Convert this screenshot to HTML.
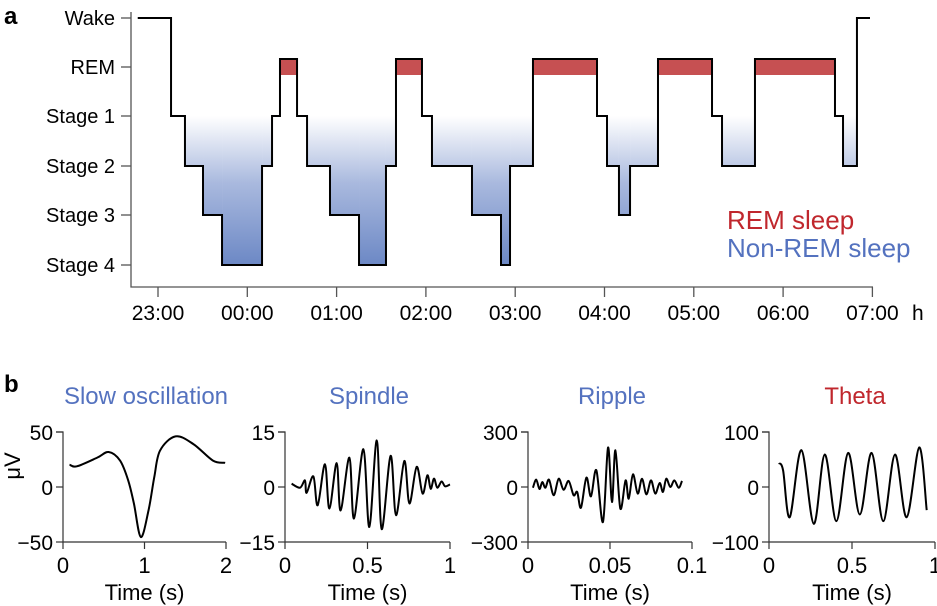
<!DOCTYPE html>
<html><head><meta charset="utf-8"><style>
body{margin:0;background:#fff}
svg{display:block;font-family:"Liberation Sans",Arial,sans-serif}
</style></head><body>
<svg id="chart" width="937" height="606" viewBox="0 0 937 606">
<defs>
<linearGradient id="nrem" x1="0" y1="116" x2="0" y2="265" gradientUnits="userSpaceOnUse">
<stop offset="0" stop-color="#ffffff"/><stop offset="0.45" stop-color="#a9b9de"/><stop offset="1" stop-color="#6c88c5"/>
</linearGradient>
</defs>
<text x="4" y="24" font-size="24" font-weight="bold">a</text>
<text x="4" y="392" font-size="24" font-weight="bold">b</text>
<g id="hyp"></g>
<g id="waves"></g>
</svg>
<script>
// ---- Panel a data ----
const stageNames = ["Wake","REM","Stage 1","Stage 2","Stage 3","Stage 4"];
const hourTicks = ["23:00","00:00","01:00","02:00","03:00","04:00","05:00","06:00","07:00"];
const hypTimes = [22.773,23.146,23.302,23.504,23.717,24.165,24.277,24.366,24.557,24.669,24.926,25.251,25.553,25.665,25.956,26.068,26.516,26.841,26.942,27.199,27.916,28.028,28.162,28.286,28.599,29.204,29.316,29.685,30.581,30.671,30.827,30.973];
const hypStages = ["Wake","Stage 1","Stage 2","Stage 3","Stage 4","Stage 2","Stage 1","REM","Stage 1","Stage 2","Stage 3","Stage 4","Stage 2","REM","Stage 1","Stage 2","Stage 3","Stage 4","Stage 2","REM","Stage 1","Stage 2","Stage 3","Stage 2","REM","Stage 1","Stage 2","REM","Stage 1","Stage 2","Wake"];

// ---- Panel b data ----
const soT = [0.08,0.17,0.42,0.56,0.70,0.80,0.87,0.955,1.05,1.12,1.19,1.38,1.6,1.84,1.99];
const soV = [20.3,18.8,26.7,31.8,24,6,-15,-45.5,-21,9,33,46,39,24,22];
const spT = [0.04,0.091,0.121,0.131,0.172,0.198,0.242,0.269,0.313,0.337,0.390,0.418,0.475,0.511,0.556,0.586,0.640,0.673,0.723,0.754,0.798,0.834,0.863,0.883,0.903,0.923,0.949,0.970,1.0];
const spV = [0.9,-0.2,1.8,-1.6,2.9,-5,6.2,-5.9,6.5,-6.4,8,-8.6,10.3,-10.9,12.7,-11.5,8.5,-7.7,7.1,-4.5,5.5,-1.8,3.2,-0.5,2.3,-0.2,1.5,0.2,0.7];
const riT = [0.003,0.005,0.007,0.0087,0.0106,0.0128,0.0157,0.0187,0.0217,0.0248,0.0278,0.03,0.0323,0.0356,0.0384,0.0417,0.0457,0.0488,0.0512,0.0533,0.0563,0.0595,0.0614,0.064,0.0669,0.0695,0.0722,0.075,0.0776,0.0803,0.0823,0.0843,0.0868,0.0892,0.0919,0.0939];
const riV = [-4,40,-11,27,-4,40,-45,45,-15,33,-45,-27,-113,51,-51,91,-191,215,-82,200,-118,36,-64,69,-36,45,-40,36,-36,22,-27,45,0,36,-4,33];
const thT = [0.06,0.085,0.125,0.195,0.27,0.336,0.406,0.477,0.547,0.618,0.688,0.759,0.829,0.905,0.95];
const thV = [43.6,30,-55,67,-67,59,-62,62,-50,62,-62,59,-55,72,-42];

const NS="http://www.w3.org/2000/svg";
function mk(tag,attrs,parent){const e=document.createElementNS(NS,tag);for(const k in attrs)e.setAttribute(k,attrs[k]);parent.appendChild(e);return e;}

const xH = h => 158 + (h-23)*89.3;
const stageTickY = [18,67,116,166,215,265];
const yS = s => { const i=stageNames.indexOf(s); return s==="REM"?59:stageTickY[i]; };
const hyp=document.getElementById('hyp');

for(let i=0;i<hypStages.length;i++){
  const s=hypStages[i], x0=xH(hypTimes[i]), x1=xH(hypTimes[i+1]);
  if(s==="REM"){
    const r=mk('rect',{x:x0,y:59,width:x1-x0,height:16,fill:"#c65052"},hyp);
    
    
  } else if(s!=="Wake" && s!=="Stage 1"){
    const r=mk('rect',{x:x0,y:116,width:x1-x0,height:yS(s)-116,fill:"url(#nrem)"},hyp);
    
    
  }
}
let d="";
for(let i=0;i<hypStages.length;i++){
  const y=yS(hypStages[i]);
  d += (i===0?"M":"L")+xH(hypTimes[i])+","+y+" L"+xH(hypTimes[i+1])+","+y+" ";
}
const st=mk('path',{d:d,fill:"none",stroke:"#000","stroke-width":2},hyp);


mk('path',{d:"M131,12 V287 H873",fill:"none",stroke:"#555","stroke-width":1.3},hyp);
stageNames.forEach((n,i)=>{
  mk('line',{x1:121,x2:131,y1:stageTickY[i],y2:stageTickY[i],stroke:"#555","stroke-width":1.3},hyp);
  const t=mk('text',{x:115,y:stageTickY[i]+7,"font-size":20,"text-anchor":"end"},hyp);
  t.textContent=n;
  
  
});
hourTicks.forEach((n,i)=>{
  const x=xH(23+i);
  mk('line',{x1:x,x2:x,y1:287,y2:297,stroke:"#555","stroke-width":1.3},hyp);
  const t=mk('text',{x:x,y:320,"font-size":21,"text-anchor":"middle"},hyp);
  t.textContent=n;
  
  
});
const hl=mk('text',{x:912,y:320,"font-size":21},hyp); hl.textContent="h";


const l1=mk('text',{x:727,y:229,"font-size":26,fill:"#c0272d"},hyp); l1.textContent="REM sleep";


const l2=mk('text',{x:727,y:257,"font-size":26,fill:"#5472bf"},hyp); l2.textContent="Non-REM sleep";



const waves=document.getElementById('waves');
function crPath(px,py){
  let d="M"+px[0]+","+py[0];
  for(let i=0;i<px.length-1;i++){
    const i0=Math.max(0,i-1),i3=Math.min(px.length-1,i+2);
    const c1x=px[i]+(px[i+1]-px[i0])/6,c1y=py[i]+(py[i+1]-py[i0])/6;
    const c2x=px[i+1]-(px[i3]-px[i])/6,c2y=py[i+1]-(py[i3]-py[i])/6;
    d+=" C"+c1x+","+c1y+" "+c2x+","+c2y+" "+px[i+1]+","+py[i+1];
  }
  return d;
}
const panels=[
 {name:"slow-oscillation",title:"Slow oscillation",color:"#5472bf",cx:146,x0:63,x1:226,tmax:2,vmax:50,xt:["0","1","2"],yt:["50","0","\u221250"],T:soT,V:soV},
 {name:"spindle",title:"Spindle",color:"#5472bf",cx:369,x0:285,x1:450,tmax:1,vmax:15,xt:["0","0.5","1"],yt:["15","0","\u221215"],T:spT,V:spV},
 {name:"ripple",title:"Ripple",color:"#5472bf",cx:612,x0:528,x1:692,tmax:0.1,vmax:300,xt:["0","0.05","0.1"],yt:["300","0","\u2212300"],T:riT,V:riV},
 {name:"theta",title:"Theta",color:"#c0272d",cx:855,x0:769,x1:935,tmax:1,vmax:100,xt:["0","0.5","1"],yt:["100","0","\u2212100"],T:thT,V:thV}
];
panels.forEach(p=>{
  const g=mk('g',{},waves);
  
  
  const xs=t=>p.x0+t/p.tmax*(p.x1-p.x0);
  const ys=v=>487-v/p.vmax*55;
  const tt=mk('text',{x:p.cx,y:404,"font-size":24,"text-anchor":"middle",fill:p.color},g);
  tt.textContent=p.title;
  
  
  mk('path',{d:`M${p.x0-7},432 H${p.x0} V542 H${p.x1}`,fill:"none",stroke:"#333","stroke-width":1.2},g);
  [432,487,542].forEach((y,i)=>{
    mk('line',{x1:p.x0-7,x2:p.x0,y1:y,y2:y,stroke:"#333","stroke-width":1.2},g);
    const t=mk('text',{x:p.x0-10,y:y+8,"font-size":21,"text-anchor":"end"},g); t.textContent=p.yt[i];
    
    
  });
  [0,0.5,1].forEach((f,i)=>{
    const x=p.x0+f*(p.x1-p.x0);
    mk('line',{x1:x,x2:x,y1:542,y2:549,stroke:"#333","stroke-width":1.2},g);
    const t=mk('text',{x:x,y:573,"font-size":22,"text-anchor":"middle"},g); t.textContent=p.xt[i];
    
    
  });
  const xl=mk('text',{x:(p.x0+p.x1)/2,y:600,"font-size":22,"text-anchor":"middle"},g); xl.textContent="Time (s)";
  
  
  const w=mk('path',{d:crPath(p.T.map(xs),p.V.map(ys)),fill:"none",stroke:"#000","stroke-width":2},g);
  
  
});
const uv=mk('text',{x:0,y:0,"font-size":22,"text-anchor":"middle",transform:"translate(20,466) rotate(-90)"},waves);
uv.textContent="\u03bcV";


</script>
</body></html>
